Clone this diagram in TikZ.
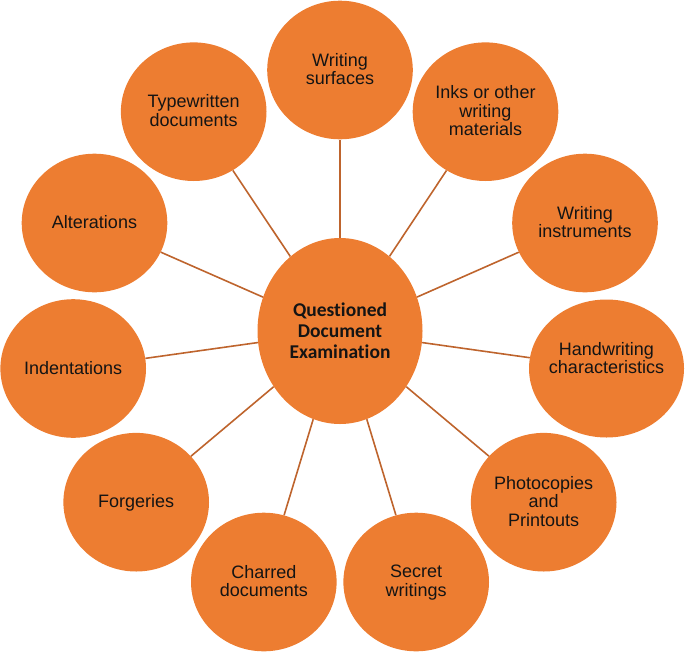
\documentclass[tikz,border=0pt]{standalone}
\usepackage{fontspec}
\setmainfont{Liberation Sans}
\newfontfamily\calib[Ligatures=NoCommon]{Carlito}
\usetikzlibrary{shapes.geometric}
\definecolor{qorange}{RGB}{237,125,49}
\definecolor{qline}{RGB}{190,100,45}
\definecolor{qtext}{RGB}{20,20,20}
\newcommand\mystr{\rule[-3pt]{0pt}{17pt}}
\newcommand\cstr{\rule[-2.6pt]{0pt}{17.6pt}}
\begin{document}
\begin{tikzpicture}[x=1pt,y=-1pt,
  bubble/.style={ellipse, fill=qorange, draw=none, minimum width=145.6pt, minimum height=138.6pt, inner sep=0pt},
  hub/.style={ellipse, fill=qorange, draw=none, minimum width=165pt, minimum height=186pt, inner sep=0pt},
  lbl/.style={align=center, font=\fontsize{18}{18.5}\selectfont, text=qtext, inner sep=0pt},
  hublbl/.style={align=center, font=\calib\bfseries\fontsize{19.5}{21.2}\selectfont, text=qtext, inner sep=0pt},
  link/.style={draw=qline, line width=1.6pt}]
\useasboundingbox (0,0) rectangle (685,651);

% shapes
\node[hub] (c) at (340,331) {};
\node[bubble] (ws) at (340,70) {};
\node[bubble] (ink) at (485.5,111.7) {};
\node[bubble] (wi) at (585,223) {};
\node[bubble, minimum width=155pt, minimum height=138pt] (hw) at (606.5,368.5) {};
\node[bubble] (pp) at (543.7,502.2) {};
\node[bubble] (sw) at (416.2,582) {};
\node[bubble] (ch) at (263.8,582) {};
\node[bubble] (fo) at (136.2,502.2) {};
\node[bubble] (ind) at (73.2,368.5) {};
\node[bubble] (alt) at (94.5,223) {};
\node[bubble] (tw) at (193.7,111.7) {};

% connectors
\foreach \t in {ws,ink,wi,hw,pp,sw,ch,fo,ind,alt,tw}
  \draw[link] (c) -- (\t);

% labels
\node[hublbl] (c-t) at (c) {\cstr Questioned\\Document\\Examination\cstr};
\node[lbl] (ws-t) at (ws) {\mystr Writing\\surfaces\mystr};
\node[lbl] (ink-t) at (ink) {\mystr Inks or other\\writing\\materials\mystr};
\node[lbl] (wi-t) at (wi) {\mystr Writing\\instruments\mystr};
\node[lbl, yshift=9.5pt] (hw-t) at (hw) {\mystr Handwriting\\characteristics\mystr};
\node[lbl] (pp-t) at (pp) {\mystr Photocopies\\and\\Printouts\mystr};
\node[lbl] (sw-t) at (sw) {\mystr Secret\\writings\mystr};
\node[lbl] (ch-t) at (ch) {\mystr Charred\\documents\mystr};
\node[lbl] (fo-t) at (fo) {\mystr Forgeries};
\node[lbl] (ind-t) at (ind) {\mystr Indentations};
\node[lbl] (alt-t) at (alt) {\mystr Alterations};
\node[lbl] (tw-t) at (tw) {\mystr Typewritten\\documents\mystr};
\end{tikzpicture}
\end{document}
